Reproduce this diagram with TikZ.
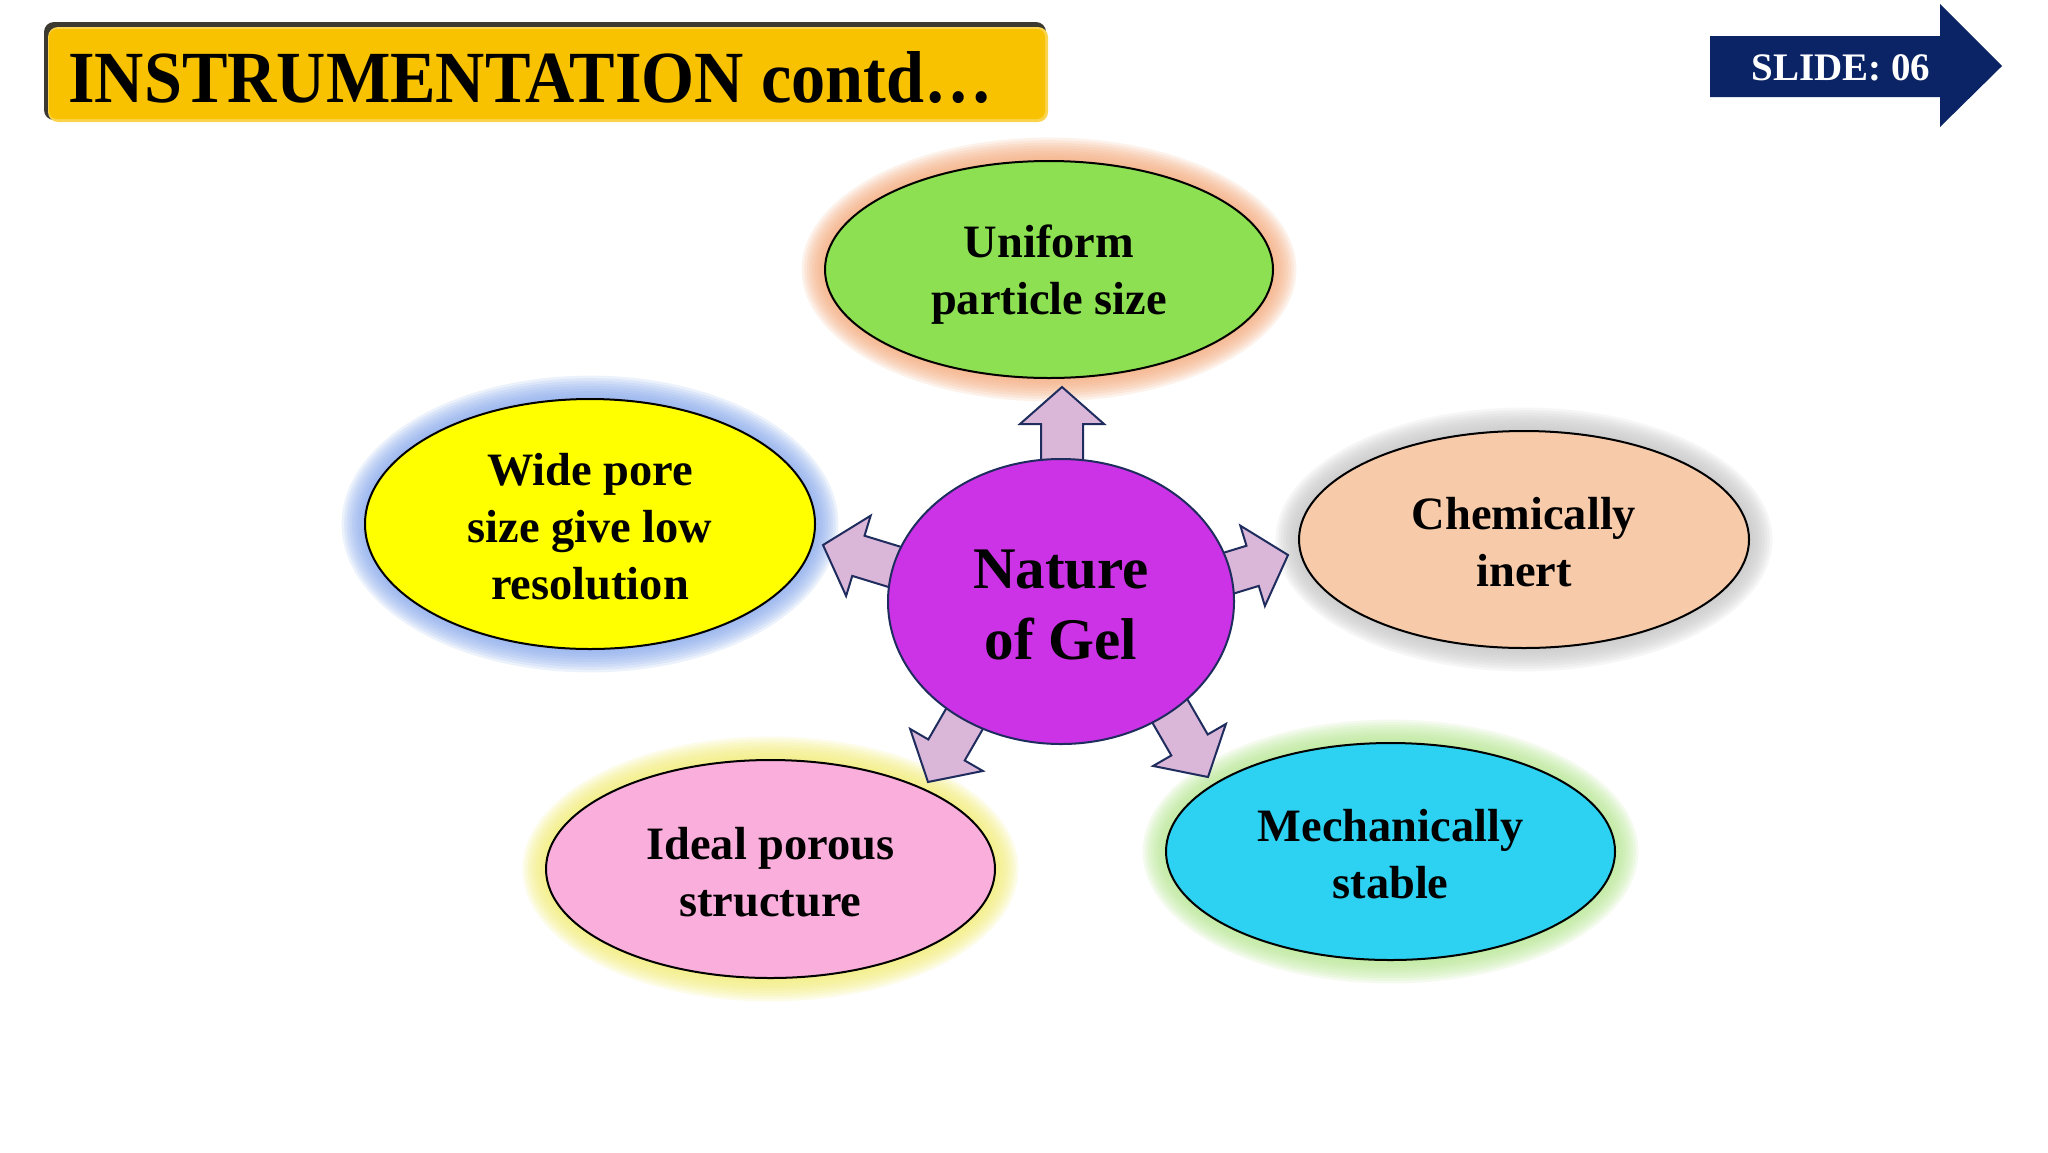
\documentclass[tikz,border=0pt]{standalone}
\usepackage{fontspec}
\setmainfont{Liberation Serif}
\usetikzlibrary{shapes.geometric}
\definecolor{titlegold}{HTML}{F8C200}
\definecolor{titlerim}{HTML}{3C3A30}
\definecolor{slidenavy}{HTML}{0B2465}
\definecolor{cgreen}{HTML}{8CE052}
\definecolor{cyellow}{HTML}{FFFF00}
\definecolor{cpeach}{HTML}{F7CBAA}
\definecolor{cpink}{HTML}{F9AEDC}
\definecolor{ccyan}{HTML}{2DD2F2}
\definecolor{cpurple}{HTML}{CC33E6}
\definecolor{gorange}{HTML}{F6A878}
\definecolor{gblue}{HTML}{86A8EE}
\definecolor{ggrey}{HTML}{C4C4C4}
\definecolor{gyellow}{HTML}{F4EE70}
\definecolor{ggreen}{HTML}{B6E890}
\definecolor{arrfill}{HTML}{DAB6D8}
\definecolor{arrline}{HTML}{1E2C5E}
\newcommand\glowell[5]{%
  \foreach \k in {1,...,9}{%
    \fill[#5,opacity=0.15] (#1,#2) ellipse [x radius={#3+2.6*\k}, y radius={#4+2.6*\k}];}}
\newcommand\blockarrow[2]{%
  \draw[arrw, shift={(#1)}, rotate=#2] (0,0) -- (-37,42) -- (-37,21) -- (-112,21)
    -- (-112,-21) -- (-37,-21) -- (-37,-42) -- cycle;}
\begin{document}
\begin{tikzpicture}[x=0.5pt,y=0.5pt,
  bub/.style={ellipse, draw=black, line width=1pt, inner sep=0pt},
  bubtext/.style={inner sep=0pt, align=center,
    font=\fontsize{23.2}{28.5}\selectfont\bfseries},
  arrw/.style={fill=arrfill, draw=arrline, line width=1pt, line join=miter}]
\useasboundingbox (0,0) rectangle (2048,-1152);
\fill[white] (0,0) rectangle (2048,-1152);
% title bar
\fill[titlerim, rounded corners=5pt] (44,-22) rectangle (1046,-120);
\fill[titlegold!70!white, rounded corners=5pt] (48,-27) rectangle (1048,-122);
\fill[titlegold, rounded corners=4pt] (49,-29) rectangle (1045,-119);
\node[anchor=base west, inner sep=0pt] (title) at (68,-102)
  {\resizebox{462pt}{25.5pt}{\bfseries INSTRUMENTATION contd…}};
% slide arrow
\fill[slidenavy] (1710,-36) -- (1940,-36) -- (1940,-4) -- (2002,-66)
  -- (1940,-127) -- (1940,-97) -- (1710,-97) -- cycle;
\node[anchor=base, inner sep=0pt, text=white, font=\fontsize{19.5}{24}\selectfont\bfseries]
  (slide) at (1841,-80) {SLIDE: 06};
% glows
\glowell{1049}{-269.5}{224}{108.5}{gorange}
\glowell{590}{-524}{225}{125}{gblue}
\glowell{1524}{-539.5}{225}{108.5}{ggrey}
\glowell{770.5}{-869}{224.5}{109}{gyellow}
\glowell{1390.5}{-851.5}{224.5}{108.5}{ggreen}
% outer bubbles
\node[bub, fill=cgreen, minimum width=224pt, minimum height=108.5pt]
  (uni) at (1049,-269.5) {};
\node[bub, fill=cyellow, minimum width=225pt, minimum height=125pt]
  (wide) at (590,-524) {};
\node[bub, fill=cpeach, minimum width=225pt, minimum height=108.5pt]
  (chem) at (1524,-539.5) {};
\node[bub, fill=cpink, minimum width=224.5pt, minimum height=109pt]
  (ideal) at (770.5,-869) {};
\node[bub, fill=ccyan, minimum width=224.5pt, minimum height=108.5pt]
  (mech) at (1390.5,-851.5) {};
\node[bubtext] (uniT) at ([yshift=-2.6pt]uni.center) {Uniform\\particle size};
\node[bubtext] (wideT) at ([yshift=-1.5pt]wide.center) {Wide pore\\size give low\\resolution};
\node[bubtext] (chemT) at ([yshift=-1.5pt]chem.center) {Chemically\\inert};
\node[bubtext] (idealT) at ([yshift=-1.6pt]ideal.center) {Ideal porous\\structure};
\node[bubtext] (mechT) at ([yshift=-1.5pt]mech.center) {Mechanically\\stable};
% arrow tips
\coordinate (tU) at (1062,-387);
\coordinate (tL) at (823,-545);
\coordinate (tR) at (1288,-555);
\coordinate (tDL) at (928,-782);
\coordinate (tDR) at (1208,-777);
\blockarrow{tU}{90}
\blockarrow{tL}{163}
\blockarrow{tR}{17}
\blockarrow{tDL}{240}
\blockarrow{tDR}{300}
% centre
\node[ellipse, draw=arrline, line width=1pt, fill=cpurple, inner sep=0pt,
  minimum width=173pt, minimum height=142.5pt] (gel) at (1061,-601.5) {};
\node[inner sep=0pt, align=center, font=\fontsize{29.5}{35.5}\selectfont\bfseries]
  (gelT) at ([yshift=-1.6pt]gel.center) {Nature\\of Gel};
\end{tikzpicture}
\end{document}
